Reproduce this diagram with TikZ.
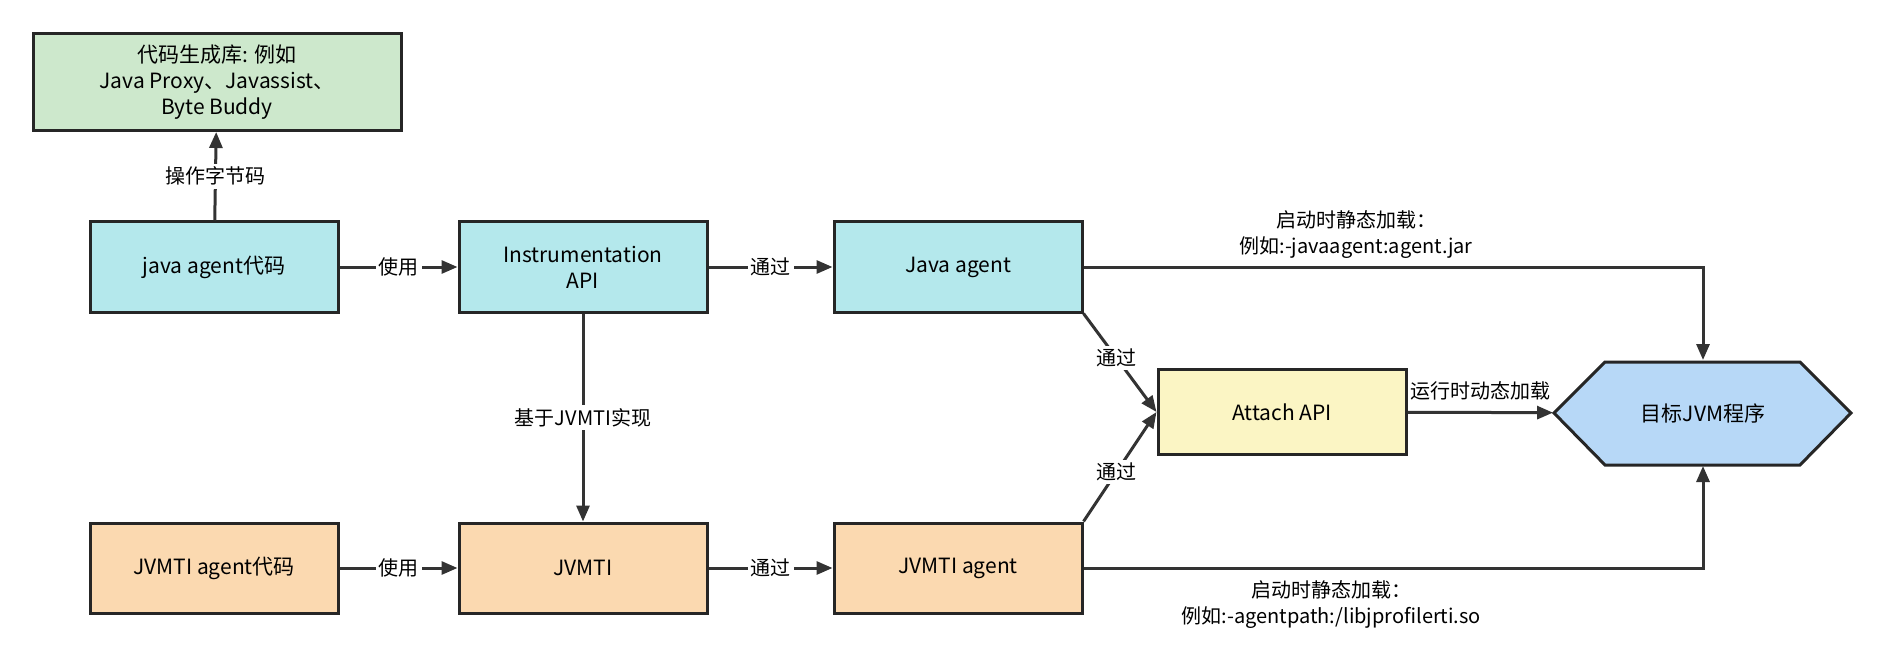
\documentclass[tikz,border=0pt]{standalone}
\usepackage{fontspec}
\setmainfont{Liberation Sans}
\newfontfamily\cjk{Noto Sans CJK SC}
\usetikzlibrary{shapes.geometric, arrows.meta, calc}

\tikzset{
    box/.style={draw=black!85, line width=3pt, minimum width=248pt, minimum height=90pt, align=center, font=\cjk\fontsize{21}{26}\selectfont},
    lbl/.style={font=\cjk\fontsize{20}{26}\selectfont, align=center, fill=white, inner sep=3pt},
    arr/.style={-{Triangle[length=16pt,width=13pt]}, line width=3pt, draw=black!80},
}
\definecolor{boxgreen}{HTML}{CDE8CC}
\definecolor{boxcyan}{HTML}{B4E8EC}
\definecolor{boxorange}{HTML}{FBD9B0}
\definecolor{boxyellow}{HTML}{FBF5C4}
\definecolor{boxblue}{HTML}{B7D8F7}

\begin{document}
\begin{tikzpicture}[x=1pt, y=-1pt]
\useasboundingbox[fill=white] (0,0) rectangle (1903,663);

\node[box, fill=boxgreen, minimum width=368pt, minimum height=97pt] (lib) at (217,82) {代码生成库: 例如\\Java Proxy、Javassist、\\Byte Buddy};
\node[box, fill=boxcyan] (jcode) at (214,267) {java agent代码};
\node[box, fill=boxcyan] (inst) at (583,267) {Instrumentation\\API};
\node[box, fill=boxcyan] (jagent) at (958,267) {Java agent};
\node[box, fill=boxyellow, minimum height=85pt] (attach) at (1282,412) {Attach API};
% target program hexagon
\fill[boxblue, draw=black!85, line width=3pt] (1554,413) -- (1605,362) -- (1800,362) -- (1851,413) -- (1800,465) -- (1605,465) -- cycle;
\node[box, draw=none, minimum width=297pt, minimum height=103pt] (jvm) at (1703,413) {目标JVM程序};
\node[box, fill=boxorange] (tcode) at (214,568) {JVMTI agent代码};
\node[box, fill=boxorange] (jvmti) at (583,568) {JVMTI};
\node[box, fill=boxorange] (tagent) at (958,568) {JVMTI agent};

\draw[arr] (jcode) -- (lib) node[lbl, midway] {操作字节码};
\draw[arr] (jcode) -- (inst) node[lbl, midway] {使用};
\draw[arr] (inst) -- (jagent) node[lbl, midway] {通过};
\draw[arr] (inst) -- (jvmti) node[lbl, pos=0.5] {基于JVMTI实现};
\draw[arr] (tcode) -- (jvmti) node[lbl, midway] {使用};
\draw[arr] (jvmti) -- (tagent) node[lbl, midway] {通过};
\draw[arr] (jagent.south east) -- (attach.west) node[lbl, pos=0.45] {通过};
\draw[arr] (tagent.north east) -- (attach.west) node[lbl, pos=0.45] {通过};
\draw[arr] (attach) -- (jvm) node[lbl, midway, above=8pt, fill=none] {运行时动态加载};
\draw[arr] (jagent.east) -| (jvm.north) node[lbl, pos=0.22, above=4pt, fill=none] {启动时静态加载：\\例如:-javaagent:agent.jar};
\draw[arr] (tagent.east) -| (jvm.south) node[lbl, pos=0.2, below=8pt, fill=none] {启动时静态加载：\\例如:-agentpath:/libjprofilerti.so};
\end{tikzpicture}
\end{document}
